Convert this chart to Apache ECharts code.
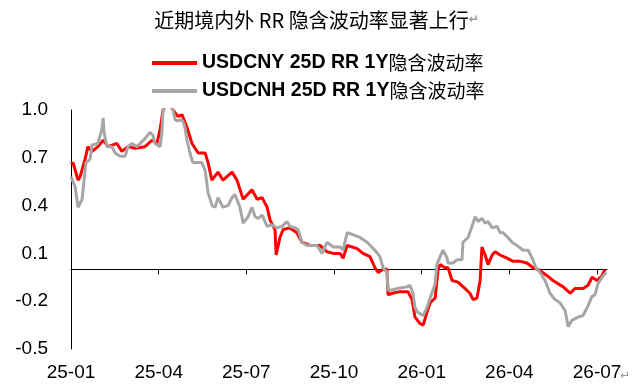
<!DOCTYPE html>
<html>
<head>
<meta charset="utf-8">
<script src="https://cdn.jsdelivr.net/npm/echarts@6/dist/echarts.min.js"></script>
<style>
html,body{margin:0;padding:0;background:#fff;}
#main{width:633px;height:390px;}
</style>
</head>
<body>
<div id="main"></div>
<script>
// x = months since 2025-01
var tickMonths = [0, 3, 6, 9, 12, 15, 18];
var tickLabels = ['25-01', '25-04', '25-07', '25-10', '26-01', '26-04', '26-07'];
var seriesNames = ['USDCNY 25D RR 1Y隐含波动率', 'USDCNH 25D RR 1Y隐含波动率'];

var cnyX = [0,0.07,0.24,0.31,0.48,0.58,0.72,0.92,1.10,1.27,
    1.57,1.74,1.95,2.19,2.53,2.77,2.94,3.05,3.15,3.32,
    3.49,3.66,3.80,3.97,4.14,4.35,4.59,4.69,4.82,5.03,
    5.20,5.51,5.68,5.89,6.19,6.37,6.54,6.71,6.81,6.98,
    7.02,7.15,7.26,7.49,7.73,7.90,8.18,8.52,8.76,8.97,
    9.21,9.31,9.45,9.62,9.79,9.99,10.23,10.40,10.51,10.68,
    10.81,10.85,10.99,11.26,11.53,11.67,11.77,11.94,12.05,12.18,
    12.29,12.46,12.56,12.63,12.80,12.90,13.04,13.24,13.48,13.65,
    13.76,13.89,14.00,14.06,14.17,14.27,14.41,14.51,14.68,14.92,
    15.13,15.37,15.60,15.81,15.98,16.29,16.49,16.84,17.08,17.25,
    17.52,17.69,17.83,18.00,18.17,18.27];
var cnyY = [0.66,0.67,0.56,0.58,0.69,0.77,0.74,0.77,0.81,0.77,
    0.79,0.74,0.77,0.76,0.77,0.81,0.79,0.88,1.00,1.05,
    1.00,0.96,0.97,0.89,0.79,0.73,0.73,0.67,0.56,0.61,
    0.56,0.61,0.56,0.44,0.50,0.44,0.45,0.39,0.31,0.25,
    0.09,0.20,0.25,0.26,0.23,0.17,0.15,0.15,0.11,0.10,
    0.10,0.07,0.15,0.14,0.13,0.10,0.08,0.01,-0.02,0.00,
    0.00,-0.16,-0.15,-0.14,-0.14,-0.19,-0.30,-0.34,-0.35,-0.27,
    -0.21,-0.18,0.00,0.03,0.01,0.01,-0.07,-0.08,-0.12,-0.15,
    -0.19,-0.18,-0.07,0.14,0.09,0.03,0.09,0.11,0.09,0.07,
    0.05,0.05,0.04,0.01,0.00,-0.04,-0.07,-0.11,-0.15,-0.12,
    -0.12,-0.10,-0.05,-0.07,-0.04,0.00];

var cnhX = [0,0.14,0.24,0.38,0.41,0.51,0.65,0.72,0.92,1.06,
    1.10,1.13,1.23,1.40,1.51,1.68,1.85,1.95,2.09,2.26,
    2.53,2.70,2.81,2.87,3.05,3.11,3.15,3.32,3.49,3.56,
    3.66,3.73,3.83,3.90,3.97,4.07,4.17,4.48,4.59,4.69,
    4.83,4.93,5.03,5.20,5.37,5.51,5.61,5.78,5.89,6.06,
    6.19,6.30,6.40,6.54,6.71,6.88,7.05,7.22,7.39,7.49,
    7.67,7.77,7.90,8.08,8.42,8.59,8.76,8.97,9.21,9.31,
    9.45,9.62,9.89,10.13,10.40,10.57,10.68,10.81,10.85,10.99,
    11.16,11.50,11.60,11.70,11.77,11.87,12.05,12.18,12.29,12.46,
    12.52,12.63,12.73,12.87,12.90,13.07,13.21,13.38,13.41,13.59,
    13.72,13.83,13.93,14.06,14.17,14.27,14.41,14.58,14.68,14.78,
    14.95,15.09,15.26,15.47,15.64,15.78,15.91,16.05,16.22,16.39,
    16.56,16.73,16.91,17.01,17.14,17.35,17.52,17.66,17.83,17.93,
    18.03,18.21,18.31];
var cnhY = [0.58,0.52,0.39,0.44,0.45,0.67,0.69,0.78,0.79,0.88,
    0.95,0.86,0.77,0.77,0.73,0.71,0.71,0.77,0.79,0.77,
    0.82,0.86,0.84,0.79,0.77,0.86,1.00,1.05,1.00,0.94,
    0.93,0.94,0.93,0.89,0.81,0.73,0.67,0.67,0.62,0.48,
    0.40,0.39,0.45,0.39,0.40,0.45,0.47,0.39,0.29,0.33,
    0.39,0.33,0.32,0.34,0.27,0.28,0.26,0.27,0.30,0.27,
    0.26,0.25,0.17,0.15,0.15,0.10,0.17,0.14,0.14,0.12,
    0.23,0.22,0.20,0.17,0.12,0.08,0.01,-0.02,-0.13,-0.13,
    -0.12,-0.11,-0.10,-0.15,-0.24,-0.27,-0.29,-0.24,-0.18,-0.09,
    0.03,0.08,0.12,0.07,0.04,0.04,0.06,0.06,0.17,0.20,
    0.27,0.33,0.30,0.32,0.29,0.30,0.26,0.27,0.23,0.23,
    0.20,0.17,0.15,0.12,0.12,0.07,0.01,-0.02,-0.07,-0.15,
    -0.19,-0.21,-0.26,-0.36,-0.32,-0.30,-0.29,-0.24,-0.17,-0.16,
    -0.09,-0.04,-0.02];

function pairs(xs, ys) {
    return xs.map(function (x, i) { return [x, ys[i]]; });
}
function tickLabel(v) {
    var i = tickMonths.indexOf(Math.round(v * 100) / 100);
    return i >= 0 ? tickLabels[i] : '';
}

var xMax = 18.34;
var latin = '"Liberation Sans", Arial, sans-serif';
var cjk = '"Noto Sans CJK SC", sans-serif';

var option = {
    animation: false,
    backgroundColor: '#fff',
    title: {
        text: '{t|近期境内外 RR 隐含波动率显著上行}{m|↵}',
        left: 'center',
        top: 5,
        textStyle: {
            rich: {
                t: { fontFamily: cjk, fontSize: 20, color: '#000', fontWeight: 'normal' },
                m: { fontFamily: '"DejaVu Sans"', fontSize: 12, color: '#999' }
            }
        }
    },
    legend: {
        orient: 'vertical',
        left: 147,
        top: 48,
        itemWidth: 45,
        itemHeight: 4,
        itemGap: 8,
        icon: 'rect',
        data: seriesNames,
        formatter: function (name) {
            var k = name.indexOf('隐');
            return '{a|' + name.slice(0, k) + '}{b|' + name.slice(k) + '}';
        },
        textStyle: {
            rich: {
                a: { fontFamily: latin, fontSize: 19.5, fontWeight: 'bold', color: '#000' },
                b: { fontFamily: cjk, fontSize: 19, color: '#000' }
            }
        }
    },
    grid: { left: 71, right: 26, top: 110, bottom: 41 },
    xAxis: [{
        type: 'value',
        min: 0,
        max: xMax,
        interval: 3,
        position: 'bottom',
        axisLine: { onZero: true, lineStyle: { color: '#000', width: 1 } },
        axisTick: { show: true, length: 5, customValues: tickMonths, lineStyle: { color: '#000' } },
        axisLabel: { show: false },
        splitLine: { show: false }
    }, {
        type: 'value',
        min: 0,
        max: xMax,
        interval: 3,
        position: 'bottom',
        axisLine: { show: false, onZero: false },
        axisTick: { show: false },
        axisLabel: {
            margin: 14,
            customValues: tickMonths,
            formatter: tickLabel,
            fontFamily: latin,
            fontSize: 19,
            color: '#000'
        },
        splitLine: { show: false }
    }],
    yAxis: {
        type: 'value',
        min: -0.5,
        max: 1.0,
        interval: 0.3,
        axisLine: { show: true, onZero: false, lineStyle: { color: '#000', width: 1 } },
        axisTick: { show: false },
        splitLine: { show: false },
        axisLabel: {
            margin: 23,
            fontFamily: latin,
            fontSize: 19,
            color: '#000',
            formatter: function (v) { return v.toFixed(1); }
        }
    },
    graphic: [{
        type: 'text',
        left: 620,
        top: 370,
        style: { text: '↵', fontFamily: '"DejaVu Sans"', fontSize: 12, fill: '#999' }
    }],
    series: [{
        name: seriesNames[0],
        type: 'line',
        xAxisIndex: 0,
        color: '#FF0000',
        showSymbol: false,
        lineStyle: { width: 3, color: '#FF0000' },
        data: pairs(cnyX, cnyY)
    }, {
        name: seriesNames[1],
        type: 'line',
        xAxisIndex: 0,
        color: '#A6A6A6',
        showSymbol: false,
        lineStyle: { width: 3, color: '#A6A6A6' },
        data: pairs(cnhX, cnhY)
    }]
};

echarts.init(document.getElementById('main')).setOption(option);
</script>
</body>
</html>
